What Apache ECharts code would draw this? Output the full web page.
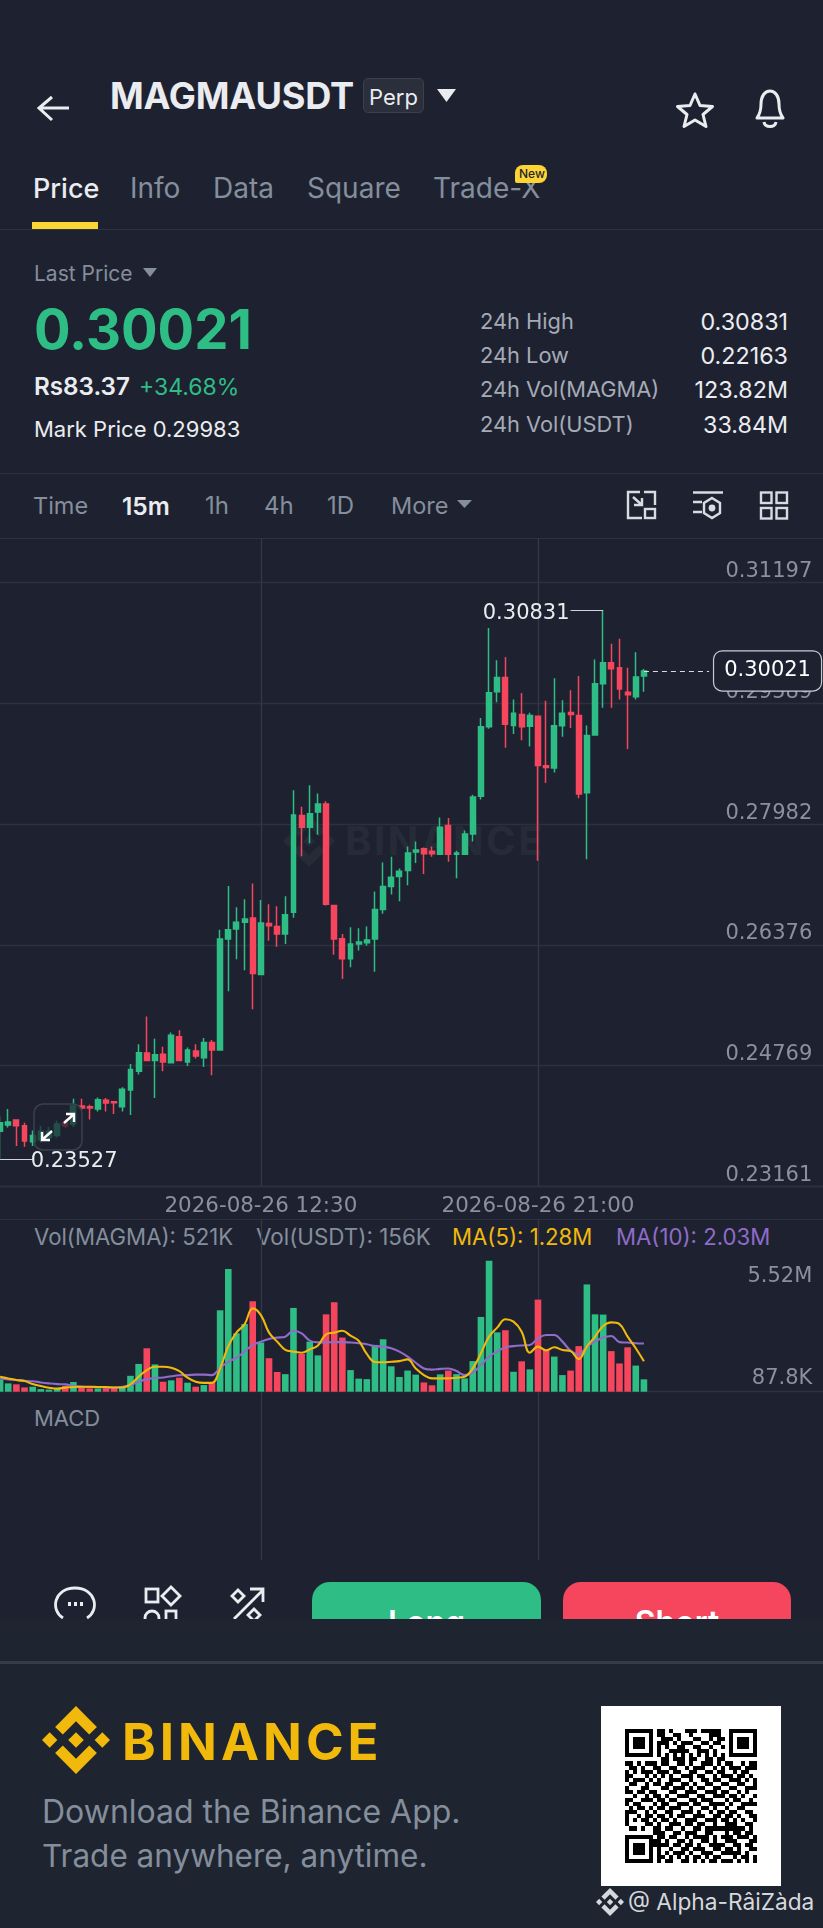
<!DOCTYPE html>
<html>
<head>
<meta charset="utf-8">
<script src="https://cdn.jsdelivr.net/npm/echarts@6/dist/echarts.min.js"></script>
<style>
html,body{margin:0;padding:0;background:#1e2230;width:823px;height:1928px;overflow:hidden;font-family:Inter,"Noto Sans",sans-serif}
#bg,#chart,#over{position:absolute;left:0;top:0;width:823px;height:1928px}
#chart{z-index:2}#over{z-index:3;pointer-events:none}#bg{z-index:1}
.t{position:absolute;white-space:nowrap;line-height:1;transform:translateY(-50%)}
.g{color:#848e9c}.w{color:#eaecef}.up{color:#2ebd85}
.r{position:absolute;}
</style>
</head>
<body>
<div id="bg">
  <div class="t w" style="left:110px;top:96px;font-size:36.2px;font-weight:700;letter-spacing:-.2px">MAGMAUSDT</div>
  <div class="r" style="left:363px;top:78px;width:61px;height:35px;background:#2a2f3b;border:1px solid #3a404c;border-radius:5px;box-sizing:border-box"></div>
  <div class="t w" style="left:369px;top:97px;font-size:22px">Perp</div>

  <div class="t w" style="left:33px;top:188px;font-size:27px;font-weight:500">Price</div>
  <div class="t g" style="left:130px;top:188px;font-size:28px">Info</div>
  <div class="t g" style="left:213px;top:188px;font-size:28px">Data</div>
  <div class="t g" style="left:307px;top:188px;font-size:28px">Square</div>
  <div class="t g" style="left:433px;top:188px;font-size:28px">Trade-X</div>
  <div class="r" style="left:515px;top:165px;width:32px;height:18px;background:#fcd535;border-radius:8px 8px 8px 2px"></div>
  <div class="t" style="left:519px;top:174px;font-size:12px;font-weight:500;color:#1e2230">New</div>
  <div class="r" style="left:32px;top:222px;width:66px;height:7px;background:#fcd535"></div>
  <div class="r" style="left:0;top:229px;width:823px;height:1px;background:#2d3240"></div>

  <div class="t g" style="left:34px;top:273px;font-size:21px">Last Price</div>
  <div class="t up" style="left:34px;top:329px;font-size:54.3px;font-weight:700">0.30021</div>
  <div class="t w" style="left:34px;top:387px;font-size:24.2px;font-weight:600">Rs83.37</div>
  <div class="t up" style="left:139px;top:387px;font-size:23px">+34.68%</div>
  <div class="t w" style="left:34px;top:429px;font-size:22px">Mark Price 0.29983</div>

  <div class="t g" style="left:480px;top:322px;font-size:21.8px;color:#a4abb6">24h High</div>
  <div class="t g" style="left:480px;top:356px;font-size:21.8px;color:#a4abb6">24h Low</div>
  <div class="t g" style="left:480px;top:390px;font-size:21.8px;color:#a4abb6">24h Vol(MAGMA)</div>
  <div class="t g" style="left:480px;top:424.5px;font-size:21.8px;color:#a4abb6">24h Vol(USDT)</div>
  <div class="t w" style="right:35px;top:322px;font-size:23.3px">0.30831</div>
  <div class="t w" style="right:35px;top:356px;font-size:23.3px">0.22163</div>
  <div class="t w" style="right:35px;top:390px;font-size:23.3px">123.82M</div>
  <div class="t w" style="right:35px;top:424.5px;font-size:23.3px">33.84M</div>
  <div class="r" style="left:0;top:473px;width:823px;height:1px;background:#2d3240"></div>

  <div class="t g" style="left:33px;top:506px;font-size:23.500px">Time</div>
  <div class="t w" style="left:122px;top:506px;font-size:24.5px;font-weight:600">15m</div>
  <div class="t g" style="left:205px;top:506px;font-size:24px">1h</div>
  <div class="t g" style="left:264px;top:506px;font-size:24px">4h</div>
  <div class="t g" style="left:327px;top:506px;font-size:24px">1D</div>
  <div class="t g" style="left:391px;top:506px;font-size:23.500px">More</div>
  <div class="r" style="left:0;top:538px;width:823px;height:1px;background:#2d3240"></div>

  <!-- watermark -->
  <svg class="r" style="left:283px;top:815px" width="52" height="52" viewBox="0 0 126.61 126.61"><path fill="#262b38" d="M38.73 53.2l24.59-24.58 24.6 24.6 14.3-14.31L63.32 0 24.43 38.9zM0 63.31l14.3-14.31 14.31 14.31-14.31 14.3zM38.73 73.41l24.59 24.59 24.6-24.6 14.31 14.29h-.01L63.32 126.61 24.42 87.71zM98 63.31l14.3-14.31 14.31 14.3-14.31 14.32zM77.83 63.3L63.32 48.78 52.59 59.51l-1.24 1.23-2.54 2.54 14.51 14.5 14.51-14.52z"/></svg>
  <div class="t" style="left:345px;top:841px;font-size:40px;font-weight:700;letter-spacing:2.5px;color:#262b38">BINANCE</div>

  <div class="r" style="left:0;top:1219px;width:823px;height:1px;background:#2d3240"></div>
  <div class="t g" style="left:34px;top:1237px;font-size:22.2px">Vol(MAGMA): 521K</div>
  <div class="t g" style="left:256px;top:1237px;font-size:22.4px">Vol(USDT): 156K</div>
  <div class="t" style="left:452px;top:1237px;font-size:22.2px;color:#f0b90b">MA(5): 1.28M</div>
  <div class="t" style="left:616px;top:1237px;font-size:22.2px;color:#8f6cc9">MA(10): 2.03M</div>
  <div class="t g" style="left:34px;top:1418px;font-size:22px">MACD</div>

  <div class="r" style="left:0;top:1560px;width:823px;height:59px;overflow:hidden">
    <div class="r" style="left:312px;top:22px;width:229px;height:80px;background:#2ebd85;border-radius:18px"></div>
    <div class="r" style="left:563px;top:22px;width:228px;height:80px;background:#f6465d;border-radius:18px"></div>
    <div class="t" style="left:312px;width:229px;text-align:center;top:62.5px;font-size:32px;font-weight:600;color:#fff">Long</div>
    <div class="t" style="left:563px;width:228px;text-align:center;top:62.5px;font-size:32px;font-weight:600;color:#fff">Short</div>
  </div>

  <div class="r" style="left:0;top:1619px;width:823px;height:309px;background:#1e2430"></div>
  <div class="r" style="left:0;top:1661px;width:823px;height:3px;background:#363c49"></div>
  <svg class="r" style="left:42px;top:1706px" width="68" height="68" viewBox="0 0 126.61 126.61"><path fill="#f0b90b" d="M38.73 53.2l24.59-24.58 24.6 24.6 14.3-14.31L63.32 0 24.43 38.9zM0 63.31l14.3-14.31 14.31 14.31-14.31 14.3zM38.73 73.41l24.59 24.59 24.6-24.6 14.31 14.29h-.01L63.32 126.61 24.42 87.71zM98 63.31l14.3-14.31 14.31 14.3-14.31 14.32zM77.83 63.3L63.32 48.78 52.59 59.51l-1.24 1.23-2.54 2.54 14.51 14.5 14.51-14.52z"/></svg>
  <div class="t" style="left:122px;top:1741px;font-size:51px;font-weight:700;letter-spacing:4px;color:#f0b90b">BINANCE</div>
  <div class="t g" style="left:42px;top:1812px;font-size:32px">Download the Binance App.</div>
  <div class="t g" style="left:42px;top:1856px;font-size:31.5px">Trade anywhere, anytime.</div>
  <div class="r" style="left:601px;top:1706px;width:180px;height:180px;background:#fff"></div>
  <svg id="qr" class="r" style="left:625px;top:1729px" width="132" height="134" viewBox="0 0 33 33" preserveAspectRatio="none" shape-rendering="crispEdges"></svg>
  <svg class="r" style="left:596px;top:1888px" width="28" height="28" viewBox="0 0 126.61 126.61"><path fill="#d5d8dd" d="M38.73 53.2l24.59-24.58 24.6 24.6 14.3-14.31L63.32 0 24.43 38.9zM0 63.31l14.3-14.31 14.31 14.31-14.31 14.3zM38.73 73.41l24.59 24.59 24.6-24.6 14.31 14.29h-.01L63.32 126.61 24.42 87.71zM98 63.31l14.3-14.31 14.31 14.3-14.31 14.32zM77.83 63.3L63.32 48.78 52.59 59.51l-1.24 1.23-2.54 2.54 14.51 14.5 14.51-14.52z"/></svg>
  <div class="t" style="left:628px;top:1902px;font-size:22.7px;color:#d5d8dd">@ Alpha-RâiZàda</div>

  <svg class="r" style="left:0;top:0" width="823" height="1928" fill="none" stroke="#eaecef" stroke-width="3">
    <defs><clipPath id="cb"><rect x="0" y="1570" width="823" height="49"/></clipPath></defs>
    <path d="M69 108H40M52 97L39 108 52 120"/>
    <path d="M437 89H456L446.5 102Z" fill="#eaecef" stroke="none"/>
    <path d="M695 94l5 11.5 12.5 1-9.5 8 3 12-11-6.5-11 6.5 3-12-9.5-8 12.5-1z" stroke-linejoin="round"/>
    <path d="M757 118c3-4 4-8 4-14 0-8 4-13 9-13s9 5 9 13c0 6 1 10 4 14zM764 122c1 6 11 6 12 0" stroke-linejoin="round"/>
    <path d="M143 268H157L150 277Z" fill="#848e9c" stroke="none"/>
    <path d="M457 500H472L464.5 508Z" fill="#848e9c" stroke="none"/>
    <g stroke-width="2.4" stroke="#d8dbe0">
      <path d="M640 492H628V518H642M644 492H655V505"/>
      <rect x="645" y="509" width="10" height="9"/>
      <path d="M633 497L642 505M634 505H642V498"/>
      <path d="M693 492.5H723M693 502H702M693 512H702"/>
      <path d="M712 498L720 503V513L712 518 704 513V503Z"/>
      <circle cx="712" cy="508" r="2.2" fill="#d8dbe0"/>
      <rect x="761" y="492.500" width="10.500" height="10.500"/><rect x="776.500" y="492.500" width="10.500" height="10.500"/>
      <rect x="761" y="508" width="10.500" height="10.500"/><rect x="776.500" y="508" width="10.500" height="10.500"/>
    </g>
    <g clip-path="url(#cb)" stroke-width="2.8">
      <path d="M63 1618C50 1610 54 1588 75 1588C96 1588 100 1610 87 1618"/>
      <path d="M68 1604h3M74 1604h3M80 1604h3" stroke-width="4"/>
      <rect x="146" y="1589" width="12" height="13"/>
      <path d="M171 1587L180 1596 171 1605 162 1596Z"/>
      <circle cx="152" cy="1618" r="7"/>
      <rect x="166" y="1611" width="10" height="12"/>
      <path d="M238 1590L244 1596 238 1602 232 1596Z"/>
      <path d="M234 1619L263 1590M250 1589H263V1602"/>
      <path d="M254 1609L260 1615 254 1621 248 1615Z"/>
    </g>
  </svg>
</div>
<div id="chart"></div>
<div id="over">
  <svg class="r" style="left:33px;top:1103px" width="50" height="48" fill="none">
    <rect x="1" y="1" width="48" height="46" rx="9" fill="#1e2230" fill-opacity=".72" stroke="#3a404c" stroke-width="1.5"/>
    <path d="M31 20L40 12M33 11H41V19M19 28L10 36M17 37H9V29" stroke="#fff" stroke-width="2.4"/>
  </svg>
</div>
<script>
const datePrefix = '2026-08-26 ';
const times = ['04:30','04:45','05:00','05:15','05:30','05:45','06:00','06:15','06:30','06:45','07:00','07:15','07:30','07:45','08:00','08:15','08:30','08:45','09:00','09:15','09:30','09:45','10:00','10:15','10:30','10:45','11:00','11:15','11:30','11:45','12:00','12:15','12:30','12:45','13:00','13:15','13:30','13:45','14:00','14:15','14:30','14:45','15:00','15:15','15:30','15:45','16:00','16:15','16:30','16:45','17:00','17:15','17:30','17:45','18:00','18:15','18:30','18:45','19:00','19:15','19:30','19:45','20:00','20:15','20:30','20:45','21:00','21:15','21:30','21:45','22:00','22:15','22:30','22:45','23:00','23:15','23:30','23:45','00:00','00:15'];
const labelledBars = [32, 66];
const emptySlots = 22;

// [open, close, low, high]
const candles = [
[.23896,.24008,.23527,.24092],[.23980,.24019,.23946,.24193],[.24047,.23969,.23700,.24047],[.23969,.23767,.23689,.24008],
[.23756,.23840,.23700,.23907],[.23784,.23896,.23745,.23969],[.23812,.23896,.23756,.23952],[.23840,.23991,.23812,.24036],
[.24008,.23969,.23935,.24064],[.23991,.24232,.23952,.24327],[.24232,.24204,.24176,.24327],[.24221,.24204,.24053,.24249],
[.24193,.24316,.24159,.24344],[.24310,.24271,.24159,.24338],[.24288,.24277,.24125,.24299],[.24221,.24456,.24159,.24483],
[.24444,.24718,.24114,.24791],[.24696,.24942,.24651,.25054],[.24937,.24836,.24830,.25424],[.24836,.24914,.24338,.25127],
[.24920,.24819,.24696,.25021],[.24808,.25172,.24797,.25211],[.25155,.24836,.24830,.25239],[.24819,.24976,.24763,.25009],
[.24965,.24898,.24864,.25054],[.24875,.25077,.24752,.25138],[.25077,.24976,.24640,.25110],[.24976,.26453,.24976,.26576],
[.26453,.26576,.25759,.27158],[.26587,.26677,.26184,.26878],[.26677,.26721,.26039,.26984],[.26733,.25994,.25519,.27191],
[.25983,.26666,.25983,.26973],[.26660,.26632,.26431,.26917],[.26621,.26520,.26352,.26889],[.26520,.26777,.26386,.27024],
[.26811,.28103,.26738,.28434],[.28098,.27941,.27555,.28215],[.27941,.28120,.27729,.28501],[.28143,.28249,.27840,.28389],
[.28249,.26917,.26901,.28288],[.26901,.26453,.26246,.26906],[.26459,.26190,.25921,.26520],[.26190,.26386,.26078,.26610],
[.26386,.26414,.26302,.26598],[.26403,.26442,.26363,.26621],[.26453,.26845,.26017,.27085],[.26845,.27152,.26789,.27471],
[.27152,.27275,.27046,.27550],[.27287,.27354,.26957,.27393],[.27365,.27600,.27169,.27684],[.27611,.27639,.27466,.27751],
[.27656,.27589,.27320,.27673],[.27622,.27589,.27550,.27684],[.27583,.27941,.27572,.28070],[.27964,.27583,.27482,.28064],
[.27583,.27600,.27264,.27628],[.27583,.27852,.27572,.27897],[.27852,.28344,.27751,.28372],[.28355,.29278,.28310,.29396],
[.29278,.29732,.29250,.30593],[.29743,.29933,.29603,.30162],[.29933,.29312,.28999,.30207],[.29295,.29457,.29183,.29642],
[.29441,.29278,.29099,.29726],[.29284,.29429,.29015,.29463],[.29418,.28764,.27494,.29429],[.28758,.28736,.28529,.29625],
[.28730,.29290,.28669,.29922],[.29290,.29457,.29144,.29631],[.29469,.29441,.29262,.29765],[.29429,.28383,.28327,.29955],
[.28400,.29161,.27516,.29295],[.29167,.29849,.29167,.30174],[.29849,.30129,.29530,.30831],[.30129,.30051,.29530,.30381],
[.30062,.29782,.29642,.30448],[.29737,.29704,.28982,.30062],[.29676,.29939,.29642,.30269],[.29955,.30021,.29743,.30045]
];
const volumes = [.52,.35,.31,.18,.21,.11,.0878,.14,.24,.41,.18,.14,.14,.18,.14,.17,.67,1.17,1.83,1.15,.42,.48,.59,.38,.21,.28,.39,3.43,5.17,2.46,2.85,3.81,2.07,1.41,.83,.74,3.53,1.59,2.11,1.53,3.26,3.77,2.28,.91,.55,.53,1.97,2.21,1.07,.62,.89,.72,.39,.27,.73,.89,.74,.56,1.29,3.15,5.52,2.50,2.59,.84,1.28,.94,3.88,1.76,1.48,.70,.89,1.92,4.52,3.26,3.25,1.71,1.19,1.87,1.10,.521];
const ma5 = [.63,.56,.49,.45,.32,.24,.17,.13,.17,.20,.21,.21,.20,.20,.18,.18,.31,.63,.91,1.05,1.05,1.01,.87,.59,.42,.37,.37,.98,1.92,2.49,2.84,3.51,3.23,2.49,2.11,1.76,1.69,1.64,1.78,1.95,2.42,2.49,2.57,2.36,2.15,1.59,1.25,1.24,1.26,1.29,1.36,.98,.70,.56,.56,.56,.59,.63,.98,1.62,2.32,2.70,3.05,2.95,2.53,1.64,1.90,1.74,1.87,1.76,1.71,1.38,1.90,2.32,2.77,2.92,2.85,2.32,1.83,1.28];
const ma10 = [.56,.52,.49,.46,.44,.39,.35,.32,.31,.24,.21,.20,.20,.18,.17,.21,.28,.42,.52,.58,.60,.65,.69,.70,.72,.72,.70,1.01,1.26,1.43,1.69,1.97,2.11,2.22,2.28,2.32,2.57,2.46,2.15,2.08,2.08,2.09,2.09,2.07,2.04,2.00,1.92,1.90,1.83,1.69,1.48,1.22,.98,.93,.96,.98,.87,.70,.80,1.12,1.48,1.69,1.87,1.92,1.95,1.97,2.25,2.39,2.39,2.11,1.73,1.57,1.90,2.11,2.28,2.35,2.09,2.07,2.04,2.03];
const priceTicks = [0.23161,0.24769,0.26376,0.27982,0.29589,0.31197];
const volTicks = [0.0878,5.52];
const volTickLabels = ['87.8K','5.52M'];
const highMark = {bar:74, value:0.30831, labelBar:70};
const lowMark = {bar:0, value:0.23527, labelBar:4};
const lastMark = {bar:79, value:0.30021, labelBar:87};

const UP='#2ebd85', DOWN='#f6465d', GRID='#2c313e', AX='#8a919c', FONT='"DejaVu Sans"';
const cats = times.concat(Array(emptySlots).fill(''));
const isLab = i => labelledBars.indexOf(i) >= 0;
const xBase = {type:'category', data:cats, boundaryGap:true, axisTick:{show:false}, axisLine:{show:false},
  axisLabel:{show:false},
  splitLine:{show:true, interval:(i)=>isLab(i), alignWithLabel:true, lineStyle:{color:'#343946',width:1.3}}};

const chart = echarts.init(document.getElementById('chart'), null, {width:823,height:1928});
chart.setOption({
  animation:false, backgroundColor:'transparent',
  textStyle:{fontFamily:FONT},
  grid:[
    {left:-4,width:831.3,top:538.5,height:648,containLabel:false,outerBoundsMode:'none'},
    {left:-4,width:831.3,top:1220,height:171.7,containLabel:false,outerBoundsMode:'none'},
    {left:-4,width:831.3,top:1392,height:168,containLabel:false,outerBoundsMode:'none'}
  ],
  xAxis:[
    Object.assign({},xBase,{gridIndex:0,
      axisLine:{show:true,lineStyle:{color:GRID,width:1.3}},
      axisLabel:{show:true,interval:(i)=>isLab(i),formatter:(v)=>datePrefix+v,color:AX,fontSize:21.4,fontFamily:FONT,margin:9.5}}),
    Object.assign({},xBase,{gridIndex:1,axisLine:{show:true,onZero:false,lineStyle:{color:GRID,width:1.3}}}),
    Object.assign({},xBase,{gridIndex:2})
  ],
  yAxis:[
    {gridIndex:0,type:'value',position:'right',min:0.23161,max:0.31783,scale:true,
      axisLine:{show:false},axisTick:{show:false,customValues:priceTicks},
      splitLine:{show:true,customValues:priceTicks,lineStyle:{color:GRID,width:1.3}},
      axisLabel:{inside:true,customValues:priceTicks,formatter:(v)=>v.toFixed(5),color:AX,fontSize:21,fontFamily:FONT,margin:15,verticalAlign:'bottom',lineHeight:22}},
    {gridIndex:1,type:'value',position:'right',min:0,max:7.235,
      axisLine:{show:false},axisTick:{show:false},splitLine:{show:false},
      axisLabel:{inside:true,customValues:volTicks,
        formatter:(v)=>(v===volTicks[0]?'{lo|':'{hi|')+volTickLabels[volTicks.indexOf(v)]+'}',
        margin:15,verticalAlignMinLabel:'bottom',verticalAlignMaxLabel:'top',
        rich:{lo:{color:AX,fontSize:21,fontFamily:FONT,lineHeight:22},hi:{color:AX,fontSize:21,fontFamily:FONT,lineHeight:32}}}},
    {gridIndex:2,type:'value',position:'right',min:0,max:1,axisLine:{show:false},axisTick:{show:false},splitLine:{show:false},axisLabel:{show:false}}
  ],
  series:[
    {type:'candlestick',name:'Price',xAxisIndex:0,yAxisIndex:0,data:candles,barWidth:5.4,
      itemStyle:{color:UP,color0:DOWN,borderColor:UP,borderColor0:DOWN,borderWidth:1.5},
      markLine:{silent:true,symbol:'none',animation:false,precision:5,
        data:[
          [{coord:[highMark.bar,highMark.value],lineStyle:{color:'#cfd3d8',width:1.2,type:'solid'},
            label:{show:true,position:'end',formatter:highMark.value.toFixed(5),color:'#eaecef',fontSize:21,fontFamily:FONT,distance:1,offset:[0,3]}},
           {coord:[highMark.labelBar,highMark.value]}],
          [{coord:[lowMark.bar,lowMark.value],lineStyle:{color:'#cfd3d8',width:1.2,type:'solid'},
            label:{show:true,position:'end',formatter:lowMark.value.toFixed(5),color:'#eaecef',fontSize:21,fontFamily:FONT,distance:-2,offset:[0,2.5]}},
           {coord:[lowMark.labelBar,lowMark.value]}],
          [{coord:[lastMark.bar,lastMark.value],lineStyle:{color:'#d8dbe0',width:1.2,type:[5,4]},
            label:{show:true,position:'end',formatter:lastMark.value.toFixed(5),color:'#fff',fontSize:21,fontFamily:FONT,distance:5,
              backgroundColor:'#1e2230',borderColor:'#c8ccd2',borderWidth:1.2,borderRadius:8,padding:[9,10,9,10]}},
           {coord:[lastMark.labelBar,lastMark.value]}]
        ]}},
    {type:'bar',name:'Vol',xAxisIndex:1,yAxisIndex:1,barWidth:6.6,
      data:volumes.map((v,i)=>({value:v,itemStyle:{color:candles[i][1]>=candles[i][0]?UP:DOWN}}))},
    {type:'line',name:'MA(5)',xAxisIndex:1,yAxisIndex:1,data:ma5,smooth:0.4,symbol:'none',lineStyle:{color:'#f0b90b',width:2.1},z:4},
    {type:'line',name:'MA(10)',xAxisIndex:1,yAxisIndex:1,data:ma10,smooth:0.4,symbol:'none',lineStyle:{color:'#8f6cc9',width:2.1},z:3},
    {type:'line',name:'MACD',xAxisIndex:2,yAxisIndex:2,data:[],symbol:'none'}
  ]
});

const qrRows = [
"1111111"+"0110100011101111100"+"1111111",
"1000001"+"0110011001000011100"+"1000001",
"1011101"+"0011101000110010110"+"1011101",
"1011101"+"0111010111001101100"+"1011101",
"1011101"+"0101001100110010010"+"1011101",
"1000001"+"0100111110011101000"+"1000001",
"1111111"+"0101010101010101010"+"1111111",
"0000000"+"0011011101100110110"+"0000000",
"1101011"+"1011001101001110101"+"1001011",
"0110100"+"1100110010111001010"+"1110111",
"1010111"+"0111011001100110110"+"0101100",
"1100010"+"1010100111011001011"+"1011010",
"1011101"+"0100111001001101100"+"1110101",
"0110010"+"1101100110100110011"+"0011001",
"1000110"+"0011011101011001100"+"1100111",
"1101101"+"1000110011100111011"+"0010100",
"0010010"+"1101001110011001110"+"1101001",
"1100111"+"0110110001101110001"+"0110010",
"1011000"+"1011001110110011110"+"1001111",
"0101101"+"0110111001001101001"+"0011000",
"1110010"+"1001100111010010110"+"1100110",
"1001011"+"0110101100111001101"+"1010011",
"1010110"+"1011010011100111011"+"0101001",
"1000011"+"0100111011011001001"+"1100110",
"0110100"+"1101100100110111111"+"1111010",
"0000000"+"1110011011100110001"+"0110110",
"1111111"+"0110110010111101011"+"1011101",
"1000001"+"1101001101001101001"+"1100011",
"1011101"+"1111011011010011110"+"0110110",
"1011101"+"0100100110111001101"+"1010011",
"1011101"+"0101011101001110011"+"1110100",
"1000001"+"0110101010110101100"+"0101101",
"1111111"+"0101100110101011011"+"1010101"];
const qr=document.getElementById('qr');let s='';
qrRows.forEach((r,y)=>{for(let x=0;x<r.length;x++)if(r[x]==='1')s+='<rect x="'+x+'" y="'+y+'" width="1" height="1" fill="#000"/>';});
qr.innerHTML=s;
</script>
</body>
</html>
